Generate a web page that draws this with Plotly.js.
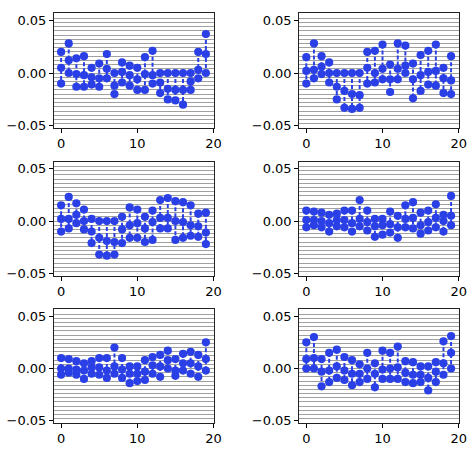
<!DOCTYPE html>
<html>
<head>
<meta charset="utf-8">
<script src="https://cdn.plot.ly/plotly-3.0.1.min.js"></script>
<style>
  html, body { margin: 0; padding: 0; background: #fff; }
  #chart { width: 474px; height: 474px; }
</style>
</head>
<body>
<div id="chart"></div>
<script>
// Lag index shared by every panel
const lags = [0,1,2,3,4,5,6,7,8,9,10,11,12,13,14,15,16,17,18,19];

// Panel 1 (top left): upper, middle and lower estimates per lag
const p1Hi  = [0.020, 0.028, 0.014, 0.016, 0.005, 0.009, 0.018, 0.000, 0.010, 0.007, 0.005, 0.015, 0.021, 0.000, 0.000, 0.000, 0.000, 0.000, 0.020, 0.037];
const p1Mid = [0.005, 0.012, -0.001, -0.002, -0.004, -0.005, 0.004, -0.012, 0.001, -0.002, -0.006, -0.001, -0.002, -0.009, -0.015, -0.016, -0.016, -0.008, 0.003, 0.018];
const p1Lo  = [-0.010, 0.000, -0.013, -0.013, -0.011, -0.013, -0.005, -0.020, -0.009, -0.012, -0.016, -0.016, -0.010, -0.019, -0.025, -0.026, -0.030, -0.016, -0.005, 0.000];

// Panel 2 (top right)
const p2Hi  = [0.015, 0.028, 0.016, 0.010, 0.000, 0.000, 0.000, 0.000, 0.020, 0.021, 0.027, 0.008, 0.028, 0.026, 0.009, 0.017, 0.021, 0.027, 0.005, 0.016];
const p2Mid = [0.002, 0.003, 0.006, 0.000, -0.013, -0.017, -0.020, -0.021, 0.005, 0.000, 0.004, -0.006, 0.004, 0.007, -0.006, -0.002, 0.001, 0.002, -0.005, -0.007];
const p2Lo  = [-0.010, -0.005, -0.001, -0.009, -0.025, -0.033, -0.034, -0.033, -0.010, -0.009, -0.006, -0.018, -0.006, 0.000, -0.024, -0.017, -0.011, -0.012, -0.019, -0.020];

// Panel 3 (middle left)
const p3Hi  = [0.015, 0.023, 0.017, 0.011, 0.002, 0.000, 0.000, 0.000, 0.004, 0.013, 0.011, 0.004, 0.010, 0.020, 0.022, 0.019, 0.018, 0.015, 0.007, 0.008];
const p3Mid = [0.002, 0.002, 0.006, 0.000, -0.010, -0.016, -0.019, -0.020, -0.008, -0.004, -0.002, -0.007, -0.001, 0.003, 0.003, 0.000, -0.001, -0.004, -0.005, -0.011];
const p3Lo  = [-0.010, -0.007, -0.002, -0.008, -0.021, -0.032, -0.033, -0.032, -0.021, -0.016, -0.016, -0.020, -0.018, -0.007, -0.007, -0.018, -0.016, -0.014, -0.015, -0.022];

// Panel 4 (middle right)
const p4Hi  = [0.010, 0.009, 0.008, 0.006, 0.007, 0.010, 0.010, 0.020, 0.010, 0.002, 0.002, 0.009, 0.005, 0.015, 0.018, 0.008, 0.010, 0.016, 0.006, 0.024];
const p4Mid = [0.001, 0.001, 0.000, -0.002, 0.001, 0.001, -0.002, 0.002, -0.001, -0.005, -0.004, -0.003, -0.006, 0.002, 0.003, -0.004, -0.001, 0.003, 0.000, 0.005];
const p4Lo  = [-0.006, -0.004, -0.006, -0.010, -0.005, -0.006, -0.010, -0.005, -0.009, -0.015, -0.013, -0.011, -0.016, -0.006, -0.007, -0.012, -0.009, -0.006, -0.010, -0.004];

// Panel 5 (bottom left)
const p5Hi  = [0.010, 0.009, 0.007, 0.005, 0.007, 0.010, 0.010, 0.020, 0.010, 0.002, 0.002, 0.008, 0.011, 0.013, 0.017, 0.009, 0.014, 0.016, 0.013, 0.025];
const p5Mid = [0.000, 0.000, -0.001, -0.002, 0.001, 0.001, -0.002, 0.002, -0.001, -0.005, -0.005, -0.003, 0.003, 0.002, 0.008, -0.002, 0.005, 0.005, 0.002, 0.009];
const p5Lo  = [-0.006, -0.004, -0.006, -0.010, -0.005, -0.006, -0.009, -0.005, -0.009, -0.014, -0.012, -0.011, -0.005, -0.008, 0.000, -0.007, -0.002, -0.005, -0.008, -0.002];

// Panel 6 (bottom right)
const p6Hi  = [0.025, 0.030, 0.009, 0.015, 0.018, 0.011, 0.008, 0.004, 0.015, 0.005, 0.017, 0.015, 0.021, 0.007, 0.006, 0.002, 0.002, 0.006, 0.026, 0.031];
const p6Mid = [0.009, 0.010, -0.003, -0.002, 0.002, -0.002, -0.005, -0.005, 0.000, -0.005, -0.001, 0.000, 0.001, -0.004, -0.006, -0.006, -0.009, -0.003, 0.005, 0.015];
const p6Lo  = [0.000, 0.000, -0.017, -0.013, -0.009, -0.011, -0.016, -0.013, -0.010, -0.018, -0.010, -0.010, -0.010, -0.013, -0.014, -0.013, -0.021, -0.013, -0.006, 0.000];

const yTickVals = [-0.05, 0, 0.05];
const yTickText = ['\u22120.05', '0.00', '0.05'];
const xTickVals = [0, 10, 20];

const panels = [
  {hi: p1Hi, mid: p1Mid, lo: p1Lo},
  {hi: p2Hi, mid: p2Mid, lo: p2Lo},
  {hi: p3Hi, mid: p3Mid, lo: p3Lo},
  {hi: p4Hi, mid: p4Mid, lo: p4Lo},
  {hi: p5Hi, mid: p5Mid, lo: p5Lo},
  {hi: p6Hi, mid: p6Mid, lo: p6Lo}
];

const W = 474, H = 474;
const blue = '#2a40e6';
const colX = [[53.5, 213.5], [298.7, 458.7]];
const rowY = [[13.3, 128.3], [161.7, 276.0], [309.3, 423.3]];
const tickFont = {family: 'DejaVu Sans, sans-serif', size: 13, color: '#000'};

const traces = [];
const layout = {
  width: W, height: H,
  margin: {l: 0, r: 0, t: 0, b: 0},
  paper_bgcolor: '#ffffff',
  plot_bgcolor: '#ffffff',
  showlegend: false,
  font: tickFont
};

panels.forEach((p, i) => {
  const n = i + 1;
  const xa = 'x' + (n === 1 ? '' : n);
  const ya = 'y' + (n === 1 ? '' : n);
  const col = i % 2, row = Math.floor(i / 2);

  // dashed stems from the lowest to the highest estimate at each lag
  const sx = [], sy = [];
  lags.forEach((x, k) => {
    const top = Math.max(p.hi[k], p.mid[k], p.lo[k]);
    const bot = Math.min(p.hi[k], p.mid[k], p.lo[k]);
    sx.push(x, x, null);
    sy.push(top, bot, null);
  });
  traces.push({
    x: sx, y: sy, xaxis: xa, yaxis: ya,
    type: 'scatter', mode: 'lines',
    line: {color: blue, width: 2, dash: '4px,2px'},
    hoverinfo: 'skip'
  });

  // markers for each of the three estimates
  [p.hi, p.mid, p.lo].forEach(vals => {
    traces.push({
      x: lags, y: vals, xaxis: xa, yaxis: ya,
      type: 'scatter', mode: 'markers',
      marker: {color: blue, size: 8.2, line: {width: 0}},
      cliponaxis: false
    });
  });

  const xKey = 'xaxis' + (n === 1 ? '' : n);
  const yKey = 'yaxis' + (n === 1 ? '' : n);
  layout[xKey] = {
    domain: [colX[col][0] / W, colX[col][1] / W],
    anchor: ya,
    range: [-1, 20],
    tickmode: 'array', tickvals: xTickVals,
    ticks: 'outside', ticklen: 3.5, tickwidth: 1, tickcolor: '#000',
    showline: true, mirror: true, linecolor: '#222', linewidth: 1,
    showgrid: false, zeroline: false,
    tickfont: tickFont
  };
  layout[yKey] = {
    domain: [1 - rowY[row][1] / H, 1 - rowY[row][0] / H],
    anchor: xa,
    range: [-0.0524, 0.0566],
    tickmode: 'array', tickvals: yTickVals, ticktext: yTickText,
    ticks: 'outside', ticklen: 3.5, tickwidth: 1, tickcolor: '#000',
    showline: true, mirror: true, linecolor: '#222', linewidth: 1,
    showgrid: false, zeroline: false,
    minor: {tick0: 0, dtick: 0.004, showgrid: true, gridcolor: '#a0a0a0', gridwidth: 1, ticks: ''},
    tickfont: tickFont
  };
});

Plotly.newPlot('chart', traces, layout, {staticPlot: true, displayModeBar: false});
</script>
</body>
</html>
